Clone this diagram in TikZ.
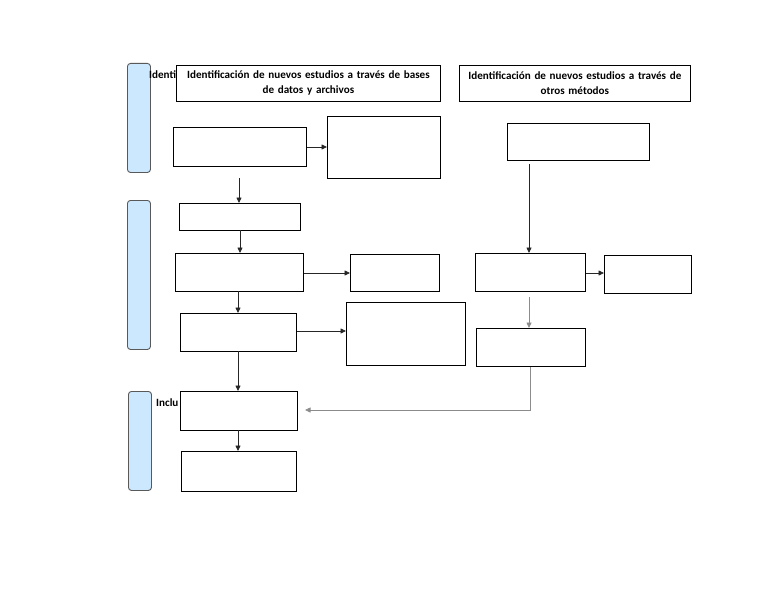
\documentclass[tikz,border=0pt]{standalone}
\usepackage{fontspec}
\setmainfont{Carlito}
\usetikzlibrary{arrows.meta}
\definecolor{barblue}{RGB}{204,232,255}
\begin{document}
\begin{tikzpicture}[x=1pt,y=-1pt,
  box/.style={draw=black,line width=0.8pt,fill=white,anchor=north west,inner sep=0pt},
  sidebar/.style={draw=black!65,line width=0.9pt,fill=barblue,rounded corners=3pt,anchor=north west,inner sep=0pt,minimum width=23pt},
  head/.style={box,font=\bfseries\fontsize{11.1}{15}\selectfont,align=center,text width=#1},
  conn/.style={draw=black!85,line width=0.8pt,-{Triangle[length=5.5pt,width=5pt]}},
  lconn/.style={draw=black!45,line width=0.8pt,-{Triangle[length=5.5pt,width=5pt]}},
  lbl/.style={font=\bfseries\fontsize{11.1}{13}\selectfont,anchor=west,inner sep=0pt}]
\useasboundingbox (0,0) rectangle (768,594);
% side bars
\node[sidebar,minimum height=109pt] (s1) at (127,63) {};
\node[sidebar,minimum height=149pt] (s2) at (127,200) {};
\node[sidebar,minimum height=99pt] (s3) at (128,391) {};
\node[lbl] (t1) at (149,75) {Identi};
\node[lbl] (t3) at (156,403) {Inclu};
% headers
\node[head=264pt,minimum height=36pt] (h1) at (176,65) {Identificación de nuevos estudios a través de bases\\de datos y archivos};
\node[head=231pt,minimum height=36pt] (h2) at (459,65) {Identificación de nuevos estudios a través de\\otros métodos};
% left column
\node[box,minimum width=133pt,minimum height=39pt] (a) at (173,127) {};
\node[box,minimum width=113pt,minimum height=62pt] (b) at (327,116) {};
\node[box,minimum width=121pt,minimum height=27pt] (d) at (179,203) {};
\node[box,minimum width=128pt,minimum height=38pt] (e) at (175,253) {};
\node[box,minimum width=89pt,minimum height=37pt] (f) at (350,254) {};
\node[box,minimum width=116pt,minimum height=38pt] (g) at (180,313) {};
\node[box,minimum width=119pt,minimum height=63pt] (h) at (346,302) {};
\node[box,minimum width=117pt,minimum height=39pt] (i) at (180,391) {};
\node[box,minimum width=115pt,minimum height=40pt] (j) at (181,451) {};
% right column
\node[box,minimum width=142pt,minimum height=37pt] (c) at (507,123) {};
\node[box,minimum width=110pt,minimum height=38pt] (k) at (475,253) {};
\node[box,minimum width=87pt,minimum height=38pt] (l) at (604,255) {};
\node[box,minimum width=109pt,minimum height=38pt] (m) at (476,328) {};
% connectors
\coordinate (a0) at (239,178);
\coordinate (c0) at (529,164);
\coordinate (k0) at (529,297);
\coordinate (mc) at (530,410);
\coordinate (ie) at (305,410);
\draw[conn] (a.east |- 0,147) -- (b.west |- 0,147);
\draw[conn] (a0) -- (a0 |- d.north);
\draw[conn] (240,230) -- (240,253);
\draw[conn] (e.east |- 0,273) -- (f.west |- 0,273);
\draw[conn] (238,291) -- (238,313);
\draw[conn] (g.east |- 0,331) -- (h.west |- 0,331);
\draw[conn] (238,351) -- (238,391);
\draw[conn] (238,430) -- (238,451);
\draw[conn] (c0) -- (c0 |- k.north);
\draw[conn] (k.east |- 0,273) -- (l.west |- 0,273);
\draw[lconn] (k0) -- (k0 |- m.north);
\draw[lconn] (m.south -| mc) -- (mc) -- (ie);
\end{tikzpicture}
\end{document}
